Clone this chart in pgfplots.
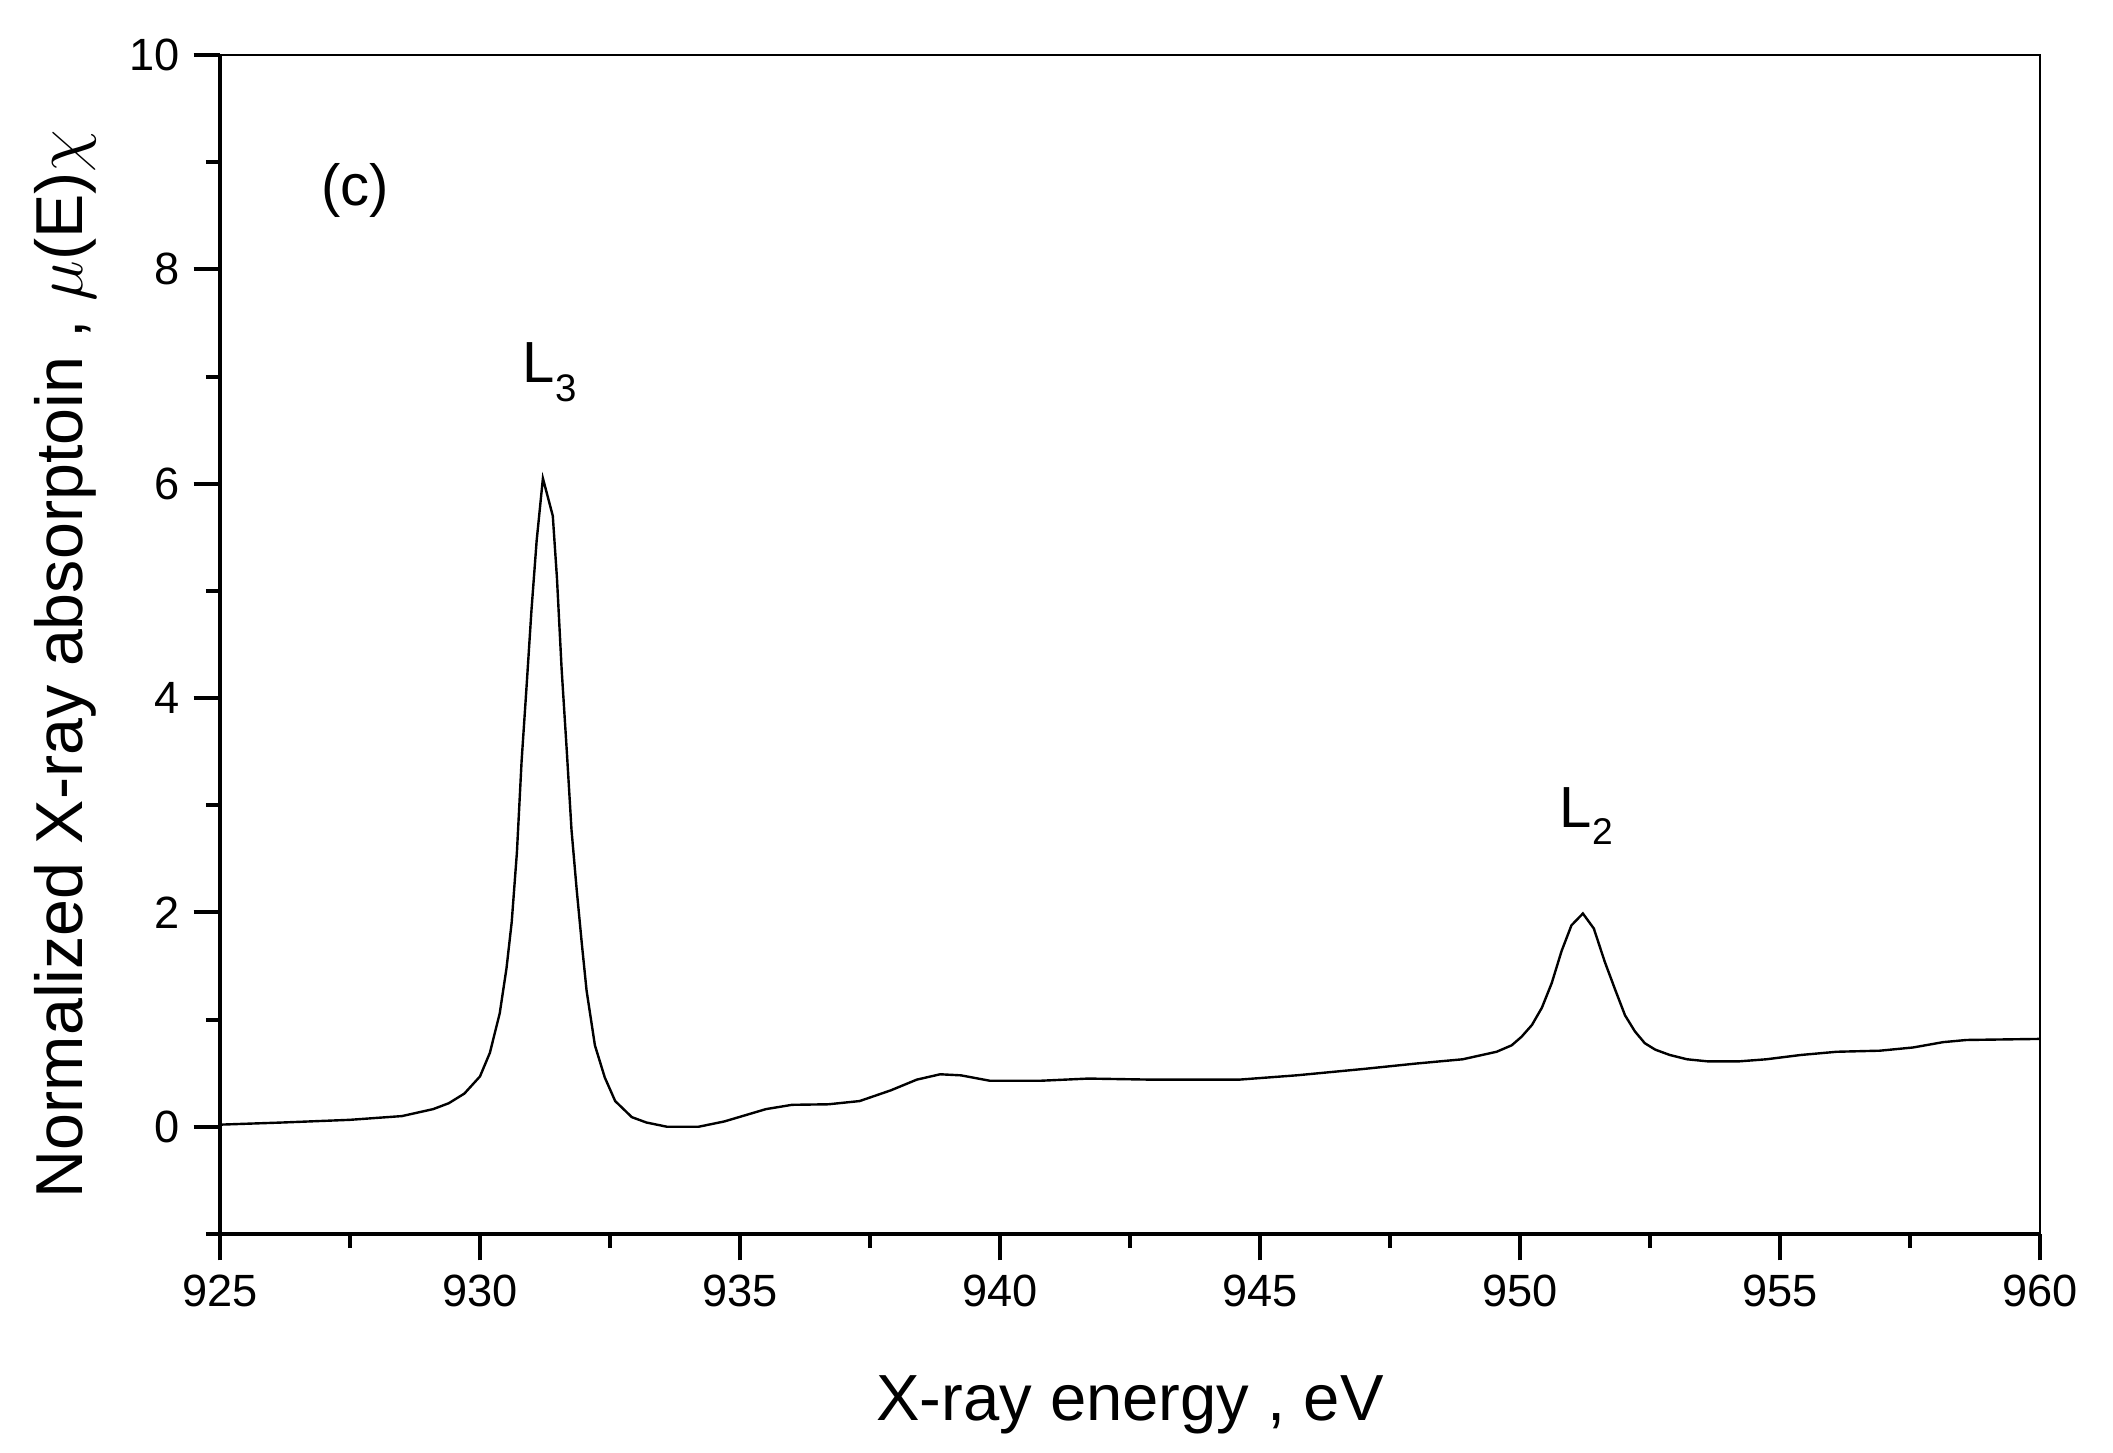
\documentclass[border=0pt]{standalone}
\usepackage{fontspec}
\setmainfont{Liberation Sans}
\usepackage{pgfplots}
\pgfplotsset{compat=1.18}
\begin{document}
\begin{tikzpicture}
\begin{axis}[
  at={(55pt,54.75pt)}, anchor=south west,
  scale only axis, width=455pt, height=294.75pt,
  xmin=925, xmax=960, ymin=-1, ymax=10,
  xtick={925,930,...,960}, ytick={0,2,...,10},
  minor xtick={927.5,932.5,937.5,942.5,947.5,952.5,957.5},
  minor ytick={-1,1,3,5,7,9},
  xtick pos=bottom, ytick pos=left,
  tick align=outside,
  major tick length=6.6pt, minor tick length=3.5pt,
  tick style={black, line width=1pt},
  axis line style={line width=0.35pt},
  /pgf/number format/assume math mode=true,
  /pgf/number format/1000 sep={},
  ticklabel style={font=\fontsize{11.3}{13}\selectfont},
  xlabel={X-ray energy , eV},
  ylabel={Normalized X-ray absorptoin , $\mu$(E)$\chi$},
  every axis x label/.style={at={(axis description cs:0.5,-0.1578)}, anchor=base, font=\fontsize{16.3}{19}\selectfont},
  every axis y label/.style={at={(axis description cs:-0.0753,0.4835)}, anchor=base, rotate=90, font=\fontsize{16.6}{19}\selectfont},
  clip=false,
]
\draw[line width=1pt] (rel axis cs:0,1) -- (rel axis cs:0,0) -- (rel axis cs:1,0);
\addplot[black, line width=0.6pt] coordinates {
(925.0,0.02) (926.2,0.04) (927.5,0.065) (928.5,0.10) (929.1,0.165) (929.4,0.22)
(929.7,0.31) (930.0,0.47) (930.19,0.69) (930.38,1.06) (930.51,1.48) (930.61,1.91)
(930.71,2.56) (930.80,3.41) (930.90,4.14) (930.99,4.82) (931.09,5.47) (931.21,6.05)
(931.40,5.70) (931.48,5.12) (931.57,4.27) (931.67,3.50) (931.76,2.77) (931.86,2.21)
(931.96,1.70) (932.05,1.27) (932.21,0.76) (932.40,0.46) (932.60,0.24) (932.92,0.09)
(933.2,0.04) (933.6,0.0) (934.2,0.0) (934.7,0.05) (935.5,0.165) (936.0,0.205)
(936.7,0.21) (937.3,0.24) (937.9,0.34) (938.4,0.44) (938.85,0.49) (939.25,0.48)
(939.8,0.43) (940.8,0.43) (941.7,0.45) (942.9,0.44) (944.6,0.44) (945.7,0.48)
(947.0,0.54) (948.0,0.59) (948.9,0.63) (949.55,0.70) (949.84,0.76) (950.03,0.84)
(950.23,0.95) (950.42,1.11) (950.61,1.34) (950.80,1.64) (950.99,1.88) (951.21,1.99)
(951.42,1.85) (951.63,1.54) (951.83,1.28) (952.02,1.04) (952.21,0.89) (952.40,0.78)
(952.60,0.72) (952.88,0.67) (953.21,0.63) (953.62,0.61) (954.20,0.61) (954.74,0.63)
(955.40,0.67) (956.09,0.70) (956.92,0.71) (957.56,0.74) (958.14,0.79) (958.59,0.81)
(960.0,0.82)
};
\node[anchor=base west, inner sep=0, font=\fontsize{14.5}{17}\selectfont] at (axis cs:926.94,8.60) {(c)};
\node[anchor=base west, inner sep=0, font=\fontsize{14.5}{17}\selectfont] at (axis cs:930.81,6.94) {L\raisebox{-4.6pt}{\fontsize{9.6}{11}\selectfont 3}};
\node[anchor=base west, inner sep=0, font=\fontsize{14.5}{17}\selectfont] at (axis cs:950.75,2.79) {L\raisebox{-4.3pt}{\fontsize{9.3}{11}\selectfont 2}};
\end{axis}
\pgfresetboundingbox
\useasboundingbox (0,0) rectangle (528.25pt,363.25pt);
\end{tikzpicture}
\end{document}
